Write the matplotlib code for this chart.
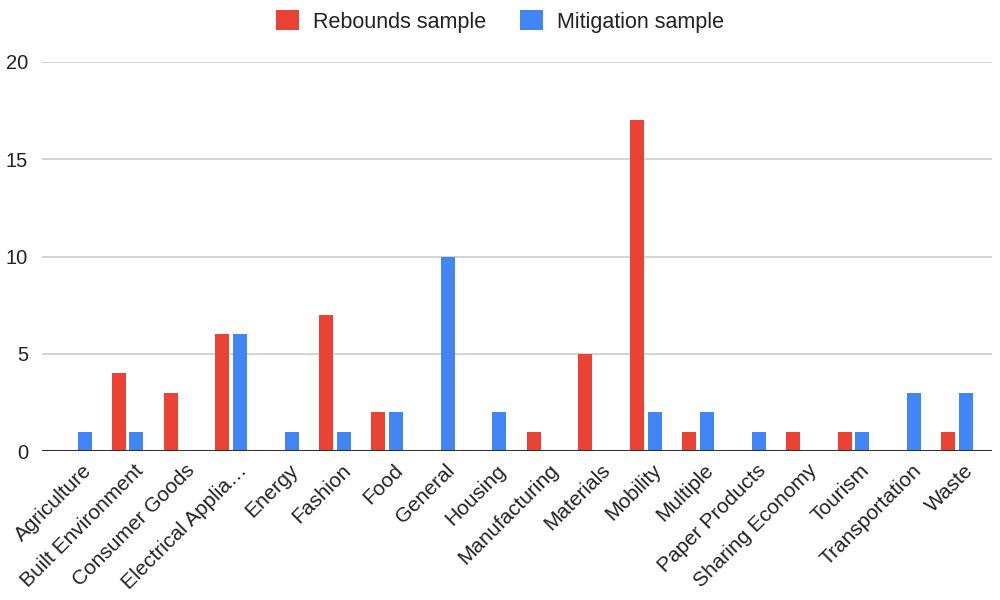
import numpy as np
import matplotlib.pyplot as plt
import matplotlib.transforms as mtransforms

plt.rcParams['font.family'] = ['Liberation Sans', 'DejaVu Sans']

categories = ["Agriculture", "Built Environment", "Consumer Goods", "Electrical Applia\u2026",
              "Energy", "Fashion", "Food", "General", "Housing", "Manufacturing",
              "Materials", "Mobility", "Multiple", "Paper Products", "Sharing Economy",
              "Tourism", "Transportation", "Waste"]
rebounds = [0, 4, 3, 6, 0, 7, 2, 0, 0, 1, 5, 17, 1, 0, 1, 1, 0, 1]
mitigation = [1, 1, 0, 6, 1, 1, 2, 10, 2, 0, 0, 2, 2, 1, 0, 1, 3, 3]

red = '#EA4335'
blue = '#4285F4'
text_col = '#222222'

fig = plt.figure(figsize=(10, 6), dpi=100)
ax = fig.add_axes([0.042, 0.248, 0.95, 0.649])

x = np.arange(len(categories))
w = 0.27
off = 0.17
# zero-height bars are skipped, like the reference
rb = np.array(rebounds, dtype=float)
mt = np.array(mitigation, dtype=float)
ax.bar(x[rb > 0] - off, rb[rb > 0], width=w, color=red, label='Rebounds sample', zorder=3)
ax.bar(x[mt > 0] + off, mt[mt > 0], width=w, color=blue, label='Mitigation sample', zorder=3)

ax.set_xlim(-0.65, 17.67)
ax.set_ylim(0, 20)
ax.set_yticks([0, 5, 10, 15, 20])
ax.grid(axis='y', color='#cccccc', linewidth=1.2, zorder=0)
ax.axhline(0, color='#333333', linewidth=1.5, zorder=4)
for s in ax.spines.values():
    s.set_visible(False)
ax.tick_params(axis='both', length=0, labelsize=14.5, colors=text_col)
ax.tick_params(axis='y', pad=10)
ax.set_xticks(x)
ax.set_xticklabels(categories, rotation=45, ha='right', rotation_mode='anchor', fontsize=15)
ax.tick_params(axis='x', pad=7)
shift = mtransforms.ScaledTranslation(6 / 100, 0, fig.dpi_scale_trans)
for lab in ax.get_xticklabels():
    lab.set_transform(lab.get_transform() + shift)

leg = fig.legend(loc='upper center', bbox_to_anchor=(0.5, 1.015), ncol=2, frameon=False,
                 fontsize=15.5, handlelength=1.05, handleheight=1.05, columnspacing=1.6,
                 handletextpad=0.65)
for t in leg.get_texts():
    t.set_color(text_col)

fig.savefig('out.png', dpi=100, facecolor='white')
